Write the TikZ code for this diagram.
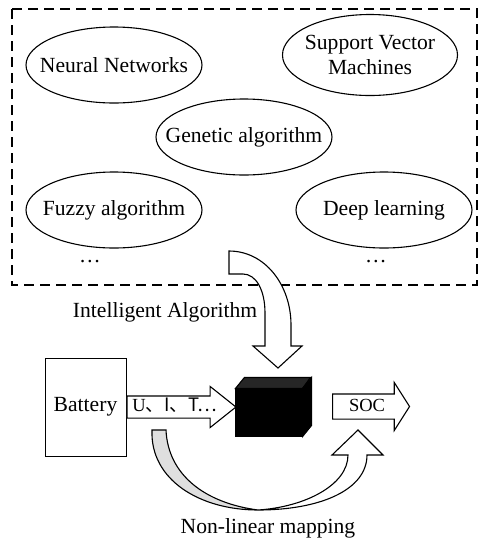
\documentclass[tikz,border=0pt]{standalone}
\usepackage{fontspec}
\setmainfont{Liberation Serif}
\newfontfamily\cjk{Noto Sans CJK SC}
\usetikzlibrary{shapes.arrows}
\tikzset{
every picture/.style={
line width=1.1pt
}}

\begin{document}
\begin{tikzpicture}[x=1pt, y=-1pt,
font=\fontsize{21.6}{25}\selectfont,
algo/.style = {align=center, inner sep=0pt},
block/.style = {rectangle, draw=black, thick, align=center},
fat/.style = {single arrow, draw=black, fill=white, anchor=tail, inner xsep=0pt, text height=13pt, text depth=4pt, font=\fontsize{18.5}{21}\selectfont}]
\useasboundingbox (0,0) rectangle (483,550);

\draw [dash pattern=on 10pt off 6pt] (12,9) rectangle (477,285);

\node [algo] (nn) at (114,65) {Neural Networks};
\node [algo] (svm) at (370,55) {Support Vector\\Machines};
\node [algo] (ga) at (244,137) {Genetic algorithm};
\node [algo] (fuzzy) at (114,210) {Fuzzy algorithm};
\node [algo] (deep) at (384,210) {Deep learning};
\draw (nn) ellipse [x radius=88, y radius=38];
\draw (svm) ellipse [x radius=87.5, y radius=40.5];
\draw (ga) ellipse [x radius=88, y radius=38];
\draw (fuzzy) ellipse [x radius=88, y radius=38];
\draw (deep) ellipse [x radius=88, y radius=38];
\node (more1) at (90,262) {…};
\node (more2) at (376,262) {…};

% algorithm into the black box
\draw [fill=white] (229,251) .. controls (265,251) and (291,285) .. (291,325)
-- (291,346) -- (302,346) -- (278,368) -- (253,346) -- (265,346) -- (265,313)
.. controls (265,290) and (256,274) .. (243,274) -- (229,274) -- cycle;
\node (ia) at (165,312) {Intelligent Algorithm};

\node [block, minimum width=81pt, minimum height=98pt] (battery) at (85.5,407) {Battery};
\node [rectangle, fill=black, draw=black, minimum width=66pt, minimum height=47pt] (box) at (269,412.5) {};
\draw [fill=black!85] (box.north west) -- ++(9,-11) -- ++(66,0) -- (box.north east) -- cycle;
\draw [fill=black] (box.north east) -- ++(9,-11) -- ++(0,48) -- (box.south east) -- cycle;

\node [fat, inner ysep=2pt, single arrow head extend=9.5pt, single arrow tip angle=77, minimum height=109pt] (uit) at (battery.east) {U\cjk{、}I\cjk{、}T\cjk{⋯}};
\node [fat, inner ysep=3.5pt, single arrow head extend=11.5pt, single arrow tip angle=115, minimum height=77pt] (soc) at (332,406.5) {SOC};

% non-linear mapping
\draw [fill=gray!25] (152,430) -- (166,430) .. controls (168,475) and (205,503) .. (258,510)
.. controls (200,510) and (150,480) .. (152,430) -- cycle;
\draw [fill=white] (258,510) .. controls (305,507) and (348,485) .. (348,455)
-- (332,455) -- (358,430) -- (383,455) -- (367,455)
.. controls (367,490) and (320,510) .. (258,510);
\node (nlm) at (268,528) {Non-linear mapping};

\end{tikzpicture}
\end{document}
